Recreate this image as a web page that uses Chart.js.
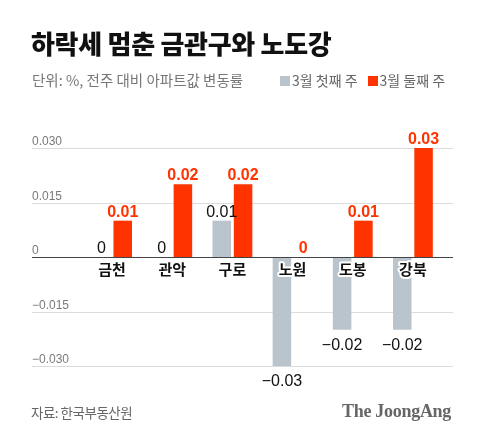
<!DOCTYPE html>
<html>
<head>
<meta charset="utf-8">
<script src="https://cdn.jsdelivr.net/npm/chart.js@4"></script>
<style>
  html, body { margin:0; padding:0; background:#fff; }
  #wrap { position:relative; width:480px; height:442px; overflow:hidden; font-family:'Noto Sans CJK KR','Noto Sans',sans-serif; }
  #c { position:absolute; left:0; top:0; }
  .abs { position:absolute; white-space:nowrap; }
  #title { left:31px; top:24px; font-size:26px; font-weight:900; color:#111; letter-spacing:-0.3px; line-height:38px; }
  #sub { left:32px; top:70px; font-size:14.5px; color:#777; line-height:20px; letter-spacing:0px; }
  #legend { left:280px; top:70px; font-size:14px; color:#666; line-height:20px; letter-spacing:0px; }
  #legend span.sw { display:inline-block; width:10px; height:10px; margin-right:2px; vertical-align:-0px; }
  #legend span.it { margin-right:10px; }
  #src { left:31px; top:402px; font-size:13.5px; color:#666; line-height:20px; letter-spacing:-0.5px; }
  #brand { right:29px; top:400px; font-family:'Liberation Serif','DejaVu Serif',serif; font-weight:700; font-size:18px; color:#666; line-height:22px; letter-spacing:-0.3px; }
</style>
</head>
<body>
<div id="wrap">
  <canvas id="c" width="480" height="442"></canvas>
  <div id="title" class="abs">하락세 멈춘 금관구와 노도강</div>
  <div id="sub" class="abs">단위: %, 전주 대비 아파트값 변동률</div>
  <div id="legend" class="abs"></div>
  <div id="src" class="abs">자료: 한국부동산원</div>
  <div id="brand" class="abs">The JoongAng</div>
</div>
<script>
const categories = ['금천', '관악', '구로', '노원', '도봉', '강북'];
const seriesNames = ['3월 첫째 주', '3월 둘째 주'];
const week1Values = [0, 0, 0.01, -0.03, -0.02, -0.02];
const week2Values = [0.01, 0.02, 0.02, 0, 0.01, 0.03];
const yTickValues = [0.03, 0.015, 0, -0.015, -0.03];
const yTickLabels = ['0.030', '0.015', '0', '\u22120.015', '\u22120.030'];

const GRAY = '#b9c4cc';
const RED = '#ff3300';

// legend
const legendEl = document.getElementById('legend');
[GRAY, RED].forEach((col, i) => {
  const it = document.createElement('span');
  it.className = 'it';
  const sw = document.createElement('span');
  sw.className = 'sw';
  sw.style.background = col;
  it.appendChild(sw);
  it.appendChild(document.createTextNode(seriesNames[i]));
  legendEl.appendChild(it);
});

function fmt(v) {
  if (v === 0) return '0';
  const s = Math.abs(v).toFixed(2);
  return v < 0 ? '\u2212' + s : s;
}

const GRID_LEFT = 32, GRID_RIGHT = 453;

const gridPlugin = {
  id: 'gridPlugin',
  beforeDatasetsDraw(chart) {
    const ctx = chart.ctx;
    const y = chart.scales.y;
    ctx.save();
    yTickValues.forEach((v, i) => {
      const py = Math.round(y.getPixelForValue(v)) + 0.5;
      if (v !== 0) {
        ctx.strokeStyle = '#dcdcdc';
        ctx.lineWidth = 1;
        ctx.beginPath();
        ctx.moveTo(GRID_LEFT, py);
        ctx.lineTo(GRID_RIGHT, py);
        ctx.stroke();
      }
      ctx.fillStyle = '#7a7a7a';
      ctx.font = '12px "Liberation Sans", Arial, sans-serif';
      ctx.textAlign = 'left';
      ctx.textBaseline = 'alphabetic';
      ctx.fillText(yTickLabels[i], GRID_LEFT, py - 4);
    });
    ctx.restore();
  },
  afterDatasetsDraw(chart) {
    const ctx = chart.ctx;
    const y = chart.scales.y;
    const x = chart.scales.x;
    const zy = Math.round(y.getPixelForValue(0)) + 0.5;
    ctx.save();
    // zero line
    ctx.strokeStyle = '#444';
    ctx.lineWidth = 1;
    ctx.beginPath();
    ctx.moveTo(GRID_LEFT, zy);
    ctx.lineTo(GRID_RIGHT, zy);
    ctx.stroke();
    // value labels
    chart.data.datasets.forEach((ds, di) => {
      const meta = chart.getDatasetMeta(di);
      meta.data.forEach((bar, i) => {
        const v = ds.data[i];
        const txt = fmt(v);
        ctx.font = (di === 1 ? '700 ' : '400 ') + '16px "Liberation Sans", Arial, sans-serif';
        ctx.fillStyle = di === 1 ? RED : '#111';
        ctx.textAlign = 'center';
        if (v >= 0) {
          ctx.textBaseline = 'alphabetic';
          ctx.fillText(txt, bar.x, bar.y - 4);
        } else {
          ctx.textBaseline = 'top';
          ctx.fillText(txt, bar.x, bar.y + 8);
        }
      });
    });
    // category labels
    ctx.font = '700 15px "Noto Sans CJK KR", sans-serif';
    ctx.textAlign = 'center';
    ctx.textBaseline = 'middle';
    categories.forEach((c, i) => {
      const px = x.getPixelForValue(i);
      ctx.lineWidth = 4;
      ctx.strokeStyle = '#fff';
      ctx.lineJoin = 'round';
      ctx.strokeText(c, px, zy + 12);
      ctx.fillStyle = '#111';
      ctx.fillText(c, px, zy + 12);
    });
    ctx.restore();
  }
};

new Chart(document.getElementById('c'), {
  type: 'bar',
  data: {
    labels: categories,
    datasets: [
      { label: seriesNames[0], data: week1Values, backgroundColor: GRAY, borderWidth: 0, barPercentage: 0.87, categoryPercentage: 0.708 },
      { label: seriesNames[1], data: week2Values, backgroundColor: RED, borderWidth: 0, barPercentage: 0.87, categoryPercentage: 0.708 }
    ]
  },
  options: {
    responsive: false,
    animation: false,
    devicePixelRatio: 1,
    layout: { padding: { left: 82, right: 37, top: 148, bottom: 76 } },
    scales: {
      x: { display: false },
      y: { display: false, min: -0.03, max: 0.03 }
    },
    plugins: { legend: { display: false }, tooltip: { enabled: false } }
  },
  plugins: [gridPlugin]
});
</script>
</body>
</html>
